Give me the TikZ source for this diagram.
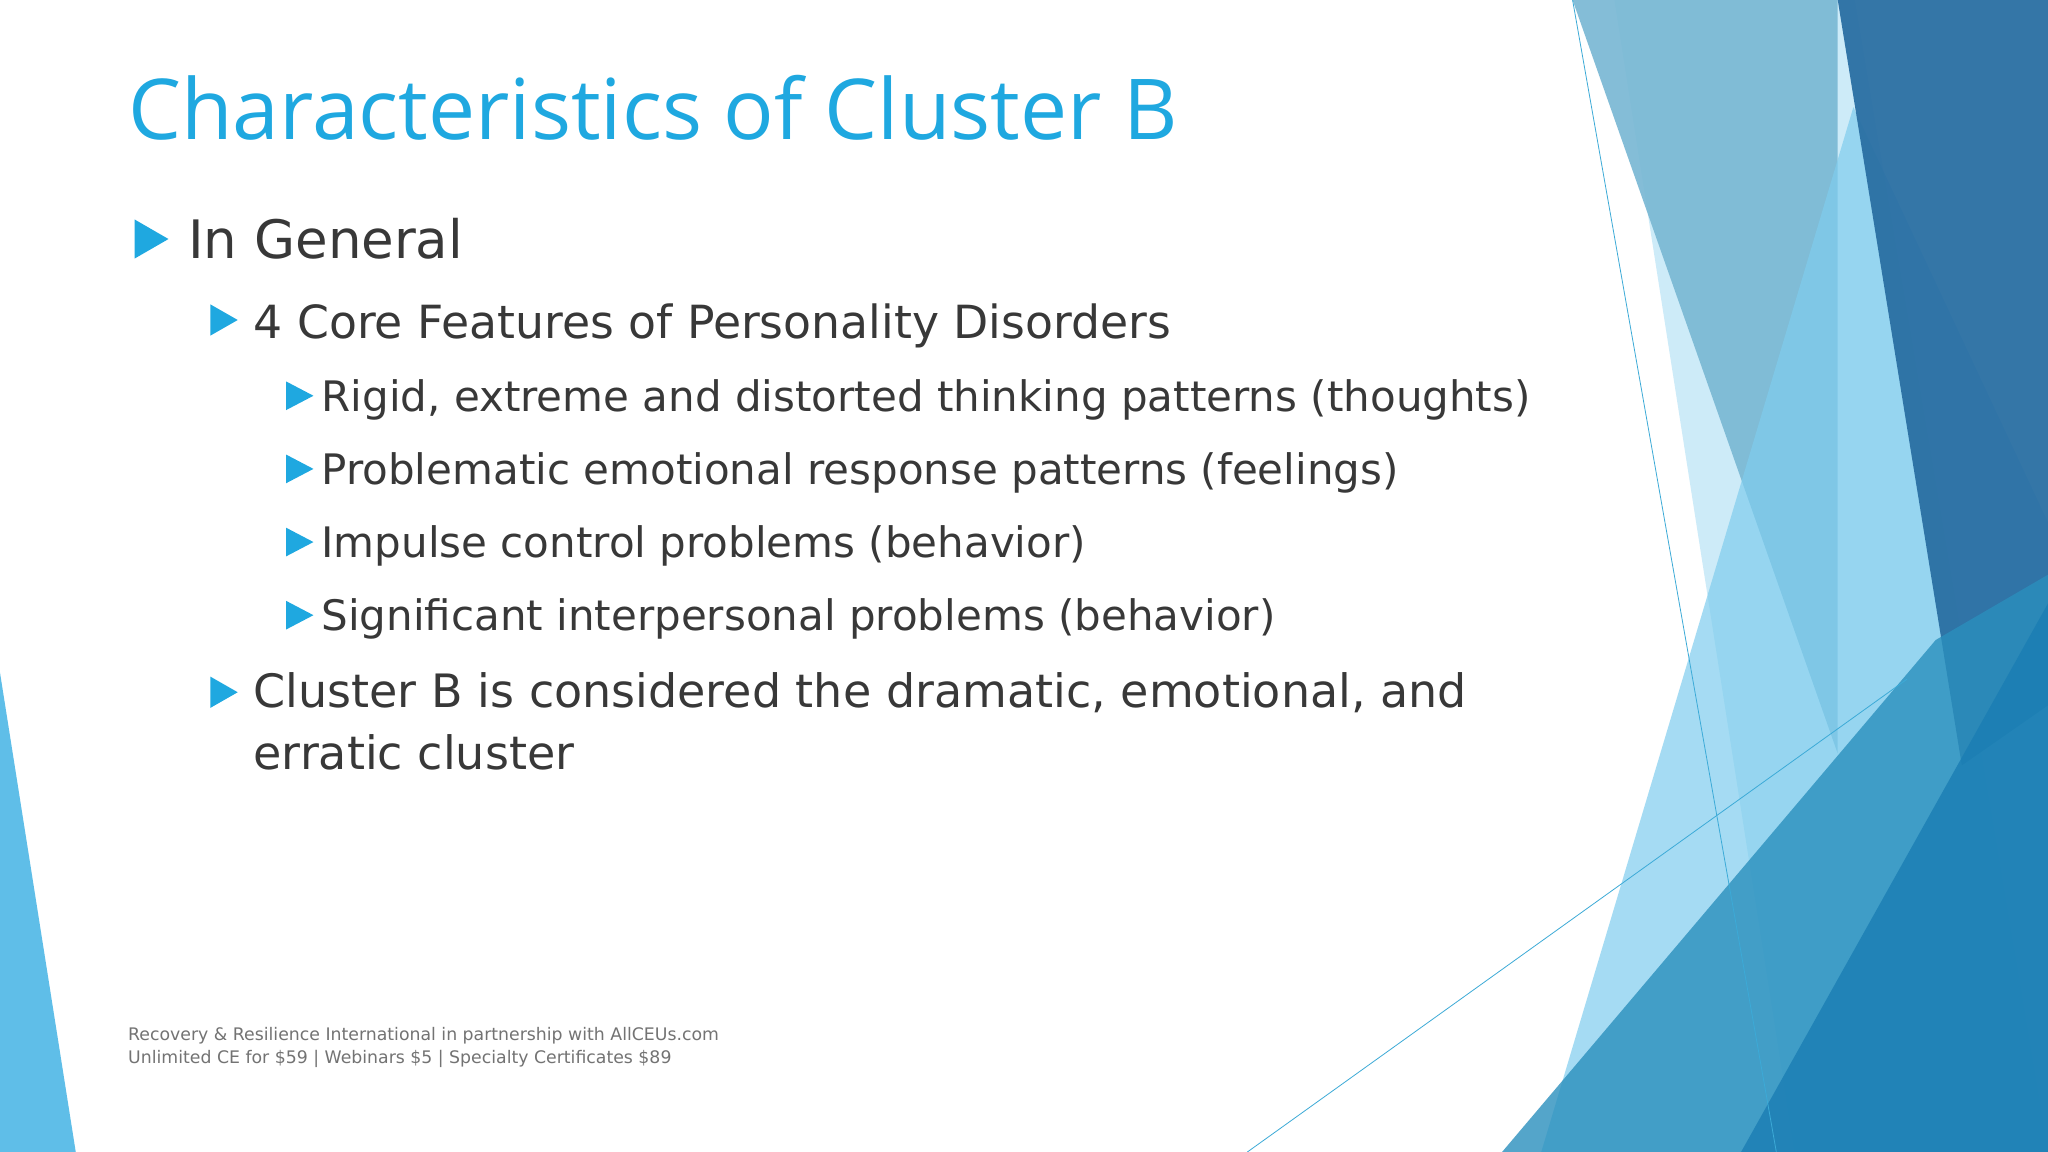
\documentclass[tikz,border=0pt]{standalone}
\usepackage{fontspec}
\setmainfont{DejaVu Sans}
\newfontfamily\titlefont{Open Sans}
\begin{document}
\begin{tikzpicture}[x=1.306pt,y=-1.306pt,
  txt/.style={anchor=base west,inner sep=0pt,text=black!78},
  bul/.style={fill=bulc},
  ]
\definecolor{bulc}{HTML}{1FA8E0}
\definecolor{tone}{HTML}{7AB8D4}
\definecolor{band}{HTML}{CDEBF8}
\definecolor{ttwo}{HTML}{7FCDEE}
\definecolor{dark}{HTML}{2A6FA3}
\definecolor{bone}{HTML}{2A8FBD}
\definecolor{btwo}{HTML}{1A7DB3}
\definecolor{lin}{HTML}{3CAAD7}
\useasboundingbox (0,0) rectangle (1568,882);
\fill[white] (0,0) rectangle (1568,882);
% right decoration
\fill[band] (1236,0) -- (1420,0) -- (1568,882) -- (1374,882) -- cycle;
\fill[tone,opacity=0.92] (1204,0) -- (1407,0) -- (1407,577) -- cycle;
\fill[ttwo,opacity=0.7] (1419,82) -- (1568,400) -- (1568,882) -- (1180,882) -- cycle;
\fill[dark,opacity=0.95] (1407,0) -- (1568,0) -- (1568,540) -- (1502,586) -- cycle;
\fill[bone,opacity=0.8] (1150,882) -- (1482,490) -- (1568,440) -- (1568,882) -- cycle;
\fill[btwo,opacity=0.8] (1333,882) -- (1568,462) -- (1568,882) -- cycle;
\draw[lin,line width=0.8] (1204,0) -- (1360,882);
\draw[lin,line width=0.8] (955,882) -- (1460,520);
% left decoration
\fill[color={rgb,255:red,95;green,190;blue,232}] (0,515) -- (58,882) -- (0,882) -- cycle;
% title
\node[anchor=base west,inner sep=0pt,text=bulc,font=\titlefont\fontsize{84}{90}\selectfont] (title) at (98,107) {Characteristics of Cluster B};
% bullets
\fill[bul] (103,168) -- (129,183) -- (103,198) -- cycle;
\foreach \y in {245,530} \fill[bul] (161,\y-12) -- (182,\y) -- (161,\y+12) -- cycle;
\foreach \y in {303,359,415,471} \fill[bul] (219,\y-11) -- (240,\y) -- (219,\y+11) -- cycle;
\node[txt,font=\fontsize{53}{60}\selectfont] (l1) at (144,198) {In General};
\node[txt,font=\fontsize{45.7}{50}\selectfont] (l2) at (194,259) {4 Core Features of Personality Disorders};
\node[txt,font=\fontsize{42}{48}\selectfont] (a) at (246,315) {Rigid, extreme and distorted thinking patterns (thoughts)};
\node[txt,font=\fontsize{42}{48}\selectfont] (b) at (246,371) {Problematic emotional response patterns (feelings)};
\node[txt,font=\fontsize{42}{48}\selectfont] (c) at (246,427) {Impulse control problems (behavior)};
\node[txt,font=\fontsize{42}{48}\selectfont] (d) at (246,483) {Significant interpersonal problems (behavior)};
\node[txt,font=\fontsize{46}{50}\selectfont] (e) at (194,542) {Cluster B is considered the dramatic, emotional, and};
\node[txt,font=\fontsize{46}{50}\selectfont] (f) at (194,589) {erratic cluster};
\node[txt,text=black!55,font=\fontsize{17.3}{20}\selectfont] (g) at (98,797) {Recovery \& Resilience International in partnership with AllCEUs.com};
\node[txt,text=black!55,font=\fontsize{17.3}{20}\selectfont] (h) at (98,814) {Unlimited CE for \$59 | Webinars \$5 | Specialty Certificates \$89};
\end{tikzpicture}
\end{document}
